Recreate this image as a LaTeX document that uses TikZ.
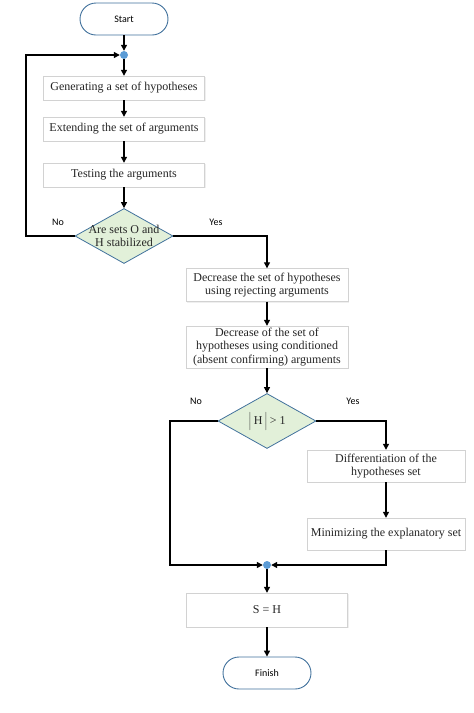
\documentclass[tikz,border=0pt]{standalone}
\usepackage{fontspec}
\setmainfont{Liberation Serif}
\newfontfamily\tagfont{Carlito}
\usetikzlibrary{shapes.geometric,arrows.meta,shadows}
\definecolor{termblue}{RGB}{65,113,156}
\definecolor{dotblue}{RGB}{91,155,213}
\definecolor{decgreen}{RGB}{226,240,217}
\definecolor{boxgray}{RGB}{210,210,210}
\begin{document}
\begin{tikzpicture}[x=1pt,y=-1pt,
  term/.style={draw=termblue, line width=0.9pt, fill=white, rounded corners=16pt,
    minimum width=88pt, minimum height=32pt, font=\tagfont\fontsize{10}{12}\selectfont},
  stepbox/.style={draw=boxgray, fill=white, align=center, inner sep=1pt,
    drop shadow={shadow xshift=1pt, shadow yshift=-1pt, fill=black!12},
    font=\fontsize{12}{13.5}\selectfont, text=black!85},
  decision/.style={diamond, draw=termblue, line width=0.8pt, fill=decgreen, inner sep=0pt,
    minimum width=98pt, minimum height=55pt},
  dectext/.style={align=center, inner sep=0pt, font=\fontsize{12}{13.5}\selectfont, text=black!85},
  joint/.style={circle, fill=dotblue, inner sep=0pt, minimum size=8pt},
  tag/.style={font=\tagfont\fontsize{10}{12}\selectfont},
  arr/.style={line width=1.2pt, -{Triangle[length=6pt,width=6pt]}}]
\useasboundingbox (0,0) rectangle (474,713);
\node[term] (start) at (124,19){Start};
\node[joint] (dot1) at (124,55){};
\node[stepbox, minimum width=161pt, minimum height=24pt] (gen) at (124,88){Generating a set of hypotheses};
\node[stepbox, minimum width=161pt, minimum height=24pt] (ext) at (124,129){Extending the set of arguments};
\node[stepbox, minimum width=161pt, minimum height=24pt] (test) at (124,175){Testing the arguments};
\node[decision] (dec1) at (124,236){};
\node[dectext] (dec1txt) at (124,236){Are sets O and\\H stabilized};
\node[tag] (no1) at (58,222){No};
\node[tag] (yes1) at (216,222){Yes};
\coordinate (loop1) at (26,55);
\node[stepbox, minimum width=162pt, minimum height=33pt] (red1) at (267,285){Decrease the set of hypotheses\\using rejecting arguments};
\node[stepbox, minimum width=162pt, minimum height=42pt] (red2) at (267,347){Decrease of the set of\\hypotheses using conditioned\\(absent confirming) arguments};
\node[decision] (dec2) at (267,421){};
\node[dectext] (dec2txt) at (267,421){$\Big|$\,H\,$\Big|$\,> 1};
\node[tag] (no2) at (196,401){No};
\node[tag] (yes2) at (353,401){Yes};
\node[stepbox, minimum width=158pt, minimum height=32pt] (diff) at (386,466){Differentiation of the\\hypotheses set};
\node[stepbox, minimum width=158pt, minimum height=32pt] (mini) at (386,534){Minimizing the explanatory set};
\node[joint] (dot2) at (267,565){};
\coordinate (loop2) at (170,565);
\node[stepbox, minimum width=161pt, minimum height=34pt] (seth) at (267,610){S = H};
\node[term] (finish) at (267,673){Finish};
\draw[arr](start) -- (dot1);
\draw[arr](dot1) -- (gen);
\draw[arr](gen) -- (ext);
\draw[arr](ext) -- (test);
\draw[arr](test) -- (dec1);
\draw[arr](dec1.west) -| (loop1) -- (dot1);
\draw[arr](dec1.east) -| (red1.north);
\draw[arr](red1) -- (red2);
\draw[arr](red2) -- (dec2);
\draw[arr](dec2.east) -| (diff.north);
\draw[arr](diff) -- (mini);
\draw[arr](mini.south) |- (dot2);
\draw[arr](dec2.west) -| (loop2) -- (dot2);
\draw[arr](dot2) -- (seth);
\draw[arr](seth) -- (finish);
\end{tikzpicture}
\end{document}
